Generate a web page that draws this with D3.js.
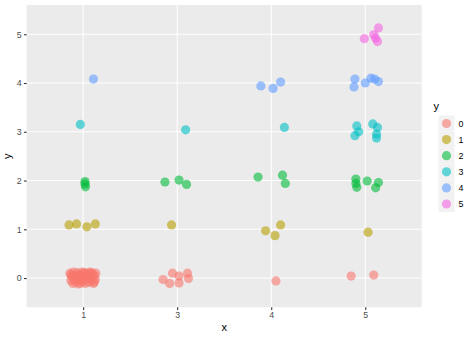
<!DOCTYPE html>
<html><head><meta charset="utf-8">
<script src="https://cdn.jsdelivr.net/npm/d3@7"></script>
<style>body{margin:0;background:#fff}svg{display:block;font-family:"Liberation Sans",Arial,sans-serif}</style>
</head><body><svg id="c" width="474" height="338"></svg>
<script>
const xCategories = ["1","3","4","5"];
const yTicks = [0,1,2,3,4,5];
const legendLevels = ["0","1","2","3","4","5"];
const colors = ["#F8766D","#B79F00","#00BA38","#00BFC4","#619CFF","#F564E3"];
// points: [x category, jitter offset, jittered y, group]
const pointsX1 = [
 ["1",0.11,4.08,4],["1",-0.03,3.15,3],["1",0.02,1.98,2],["1",0.025,1.87,2],["1",0.02,1.93,2],
 ["1",-0.15,1.09,1],["1",-0.07,1.11,1],["1",0.04,1.05,1],["1",0.13,1.11,1],
 ["1",-0.14,0.10,0],["1",-0.13,-0.05,0],["1",-0.12,0.03,0],["1",-0.11,-0.11,0],["1",-0.10,0.12,0],
 ["1",-0.09,0.05,0],["1",-0.08,-0.08,0],["1",-0.07,0.00,0],["1",-0.06,0.11,0],["1",-0.05,-0.03,0],
 ["1",-0.04,0.07,0],["1",-0.03,-0.10,0],["1",-0.02,0.02,0],["1",-0.01,0.12,0],["1",0.00,-0.06,0],
 ["1",0.01,0.06,0],["1",0.02,-0.11,0],["1",0.03,0.10,0],["1",0.04,-0.02,0],["1",0.05,0.04,0],
 ["1",0.06,-0.09,0],["1",0.07,0.12,0],["1",0.08,0.01,0],["1",0.09,-0.05,0],["1",0.10,0.09,0],
 ["1",0.11,-0.11,0],["1",0.12,0.05,0],["1",0.13,-0.03,0],["1",0.135,0.10,0],["1",-0.13,0.07,0],
 ["1",0.06,0.08,0],["1",-0.05,-0.12,0],["1",-0.10,-0.02,0],["1",0.09,0.11,0],["1",0.12,-0.08,0],
 ["1",-0.02,-0.04,0],["1",0.01,0.11,0]
];
const pointsX3 = [
 ["3",0.09,3.04,3],
 ["3",-0.13,1.97,2],["3",0.02,2.01,2],["3",0.10,1.92,2],
 ["3",-0.06,1.09,1],
 ["3",-0.15,-0.03,0],["3",-0.08,-0.11,0],["3",-0.05,0.10,0],["3",0.02,-0.10,0],["3",0.02,0.04,0],["3",0.11,0.10,0],["3",0.12,-0.01,0]
];
const pointsX4 = [
 ["4",-0.11,3.94,4],["4",0.02,3.89,4],["4",0.10,4.02,4],
 ["4",0.14,3.09,3],
 ["4",-0.14,2.07,2],["4",0.12,2.11,2],["4",0.15,1.94,2],
 ["4",-0.06,0.97,1],["4",0.04,0.87,1],["4",0.10,1.09,1],
 ["4",0.05,-0.06,0]
];
const pointsX5 = [
 ["5",0.14,5.13,5],["5",-0.01,4.91,5],["5",0.09,4.99,5],["5",0.11,4.92,5],["5",0.13,4.85,5],
 ["5",-0.11,4.08,4],["5",-0.12,3.92,4],["5",0.0,4.00,4],["5",0.06,4.10,4],["5",0.10,4.08,4],["5",0.14,4.03,4],
 ["5",-0.09,3.12,3],["5",-0.07,3.00,3],["5",-0.11,2.92,3],["5",0.08,3.16,3],["5",0.13,3.09,3],["5",0.12,2.95,3],["5",0.12,2.87,3],
 ["5",-0.10,2.03,2],["5",-0.10,1.94,2],["5",-0.09,1.86,2],["5",0.02,1.99,2],["5",0.14,1.96,2],["5",0.11,1.85,2],
 ["5",0.03,0.94,1],
 ["5",-0.15,0.04,0],["5",0.09,0.06,0]
];
const points = [...pointsX1, ...pointsX3, ...pointsX4, ...pointsX5];

const svg = d3.select("#c");
const P = {l:26.7, r:421.7, t:5, b:307.3};
// discrete expansion: 0.6 units each side
const step = (P.r - P.l) / (xCategories.length - 1 + 1.2);
const xc = c => P.l + step * (0.6 + xCategories.indexOf(c));
const y = d3.scaleLinear().domain([-0.6, 5.6]).range([P.b, P.t]);

svg.append("rect").attr("x",P.l).attr("y",P.t).attr("width",P.r-P.l).attr("height",P.b-P.t).attr("fill","#EBEBEB");
const g = svg.append("g");
yTicks.forEach(t => g.append("line").attr("x1",P.l).attr("x2",P.r).attr("y1",y(t)).attr("y2",y(t)).attr("stroke","#fff").attr("stroke-width",1.07));
xCategories.forEach(c => g.append("line").attr("x1",xc(c)).attr("x2",xc(c)).attr("y1",P.t).attr("y2",P.b).attr("stroke","#fff").attr("stroke-width",1.07));

svg.append("g").selectAll("circle").data(points).join("circle")
  .attr("cx", d => xc(d[0]) + d[1]*step)
  .attr("cy", d => y(d[2]))
  .attr("r", 4.6)
  .attr("fill", d => colors[d[3]])
  .attr("fill-opacity", 0.6);

// axes
const ax = svg.append("g").attr("transform",`translate(0,${P.b})`)
  .call(d3.axisBottom(d3.scalePoint().domain(xCategories).range([xc(xCategories[0]), xc(xCategories[xCategories.length-1])])).tickSize(2.75).tickPadding(2.2));
const ay = svg.append("g").attr("transform",`translate(${P.l},0)`)
  .call(d3.axisLeft(y).tickValues(yTicks).tickFormat(d3.format("d")).tickSize(2.75).tickPadding(2.2));
[ax, ay].forEach(a => {
  a.select(".domain").remove();
  a.selectAll(".tick line").attr("stroke","#333").attr("stroke-width",1.07);
  a.selectAll(".tick text").attr("fill","#4D4D4D").attr("font-size","8.8px").attr("font-family","Liberation Sans, Arial, sans-serif");
});

svg.append("text").attr("x",(P.l+P.r)/2).attr("y",331).attr("text-anchor","middle").attr("font-size","11px").attr("fill","#000").text("x");
svg.append("text").attr("transform",`translate(11,${(P.t+P.b)/2}) rotate(-90)`).attr("text-anchor","middle").attr("font-size","11px").attr("fill","#000").text("y");

// legend
const lg = svg.append("g");
lg.append("text").attr("x",433.5).attr("y",110).attr("font-size","11px").text("y");
legendLevels.forEach((lv,i) => {
  const cy = 123.5 + i*16.1;
  lg.append("rect").attr("x",438.5).attr("y",cy-8).attr("width",16).attr("height",16).attr("fill","#F2F2F2");
  lg.append("circle").attr("cx",446.5).attr("cy",cy).attr("r",4.6).attr("fill",colors[i]).attr("fill-opacity",0.6);
  lg.append("text").attr("x",458.5).attr("y",cy+3.1).attr("font-size","8.8px").attr("fill","#000").text(lv);
});
</script></body></html>
